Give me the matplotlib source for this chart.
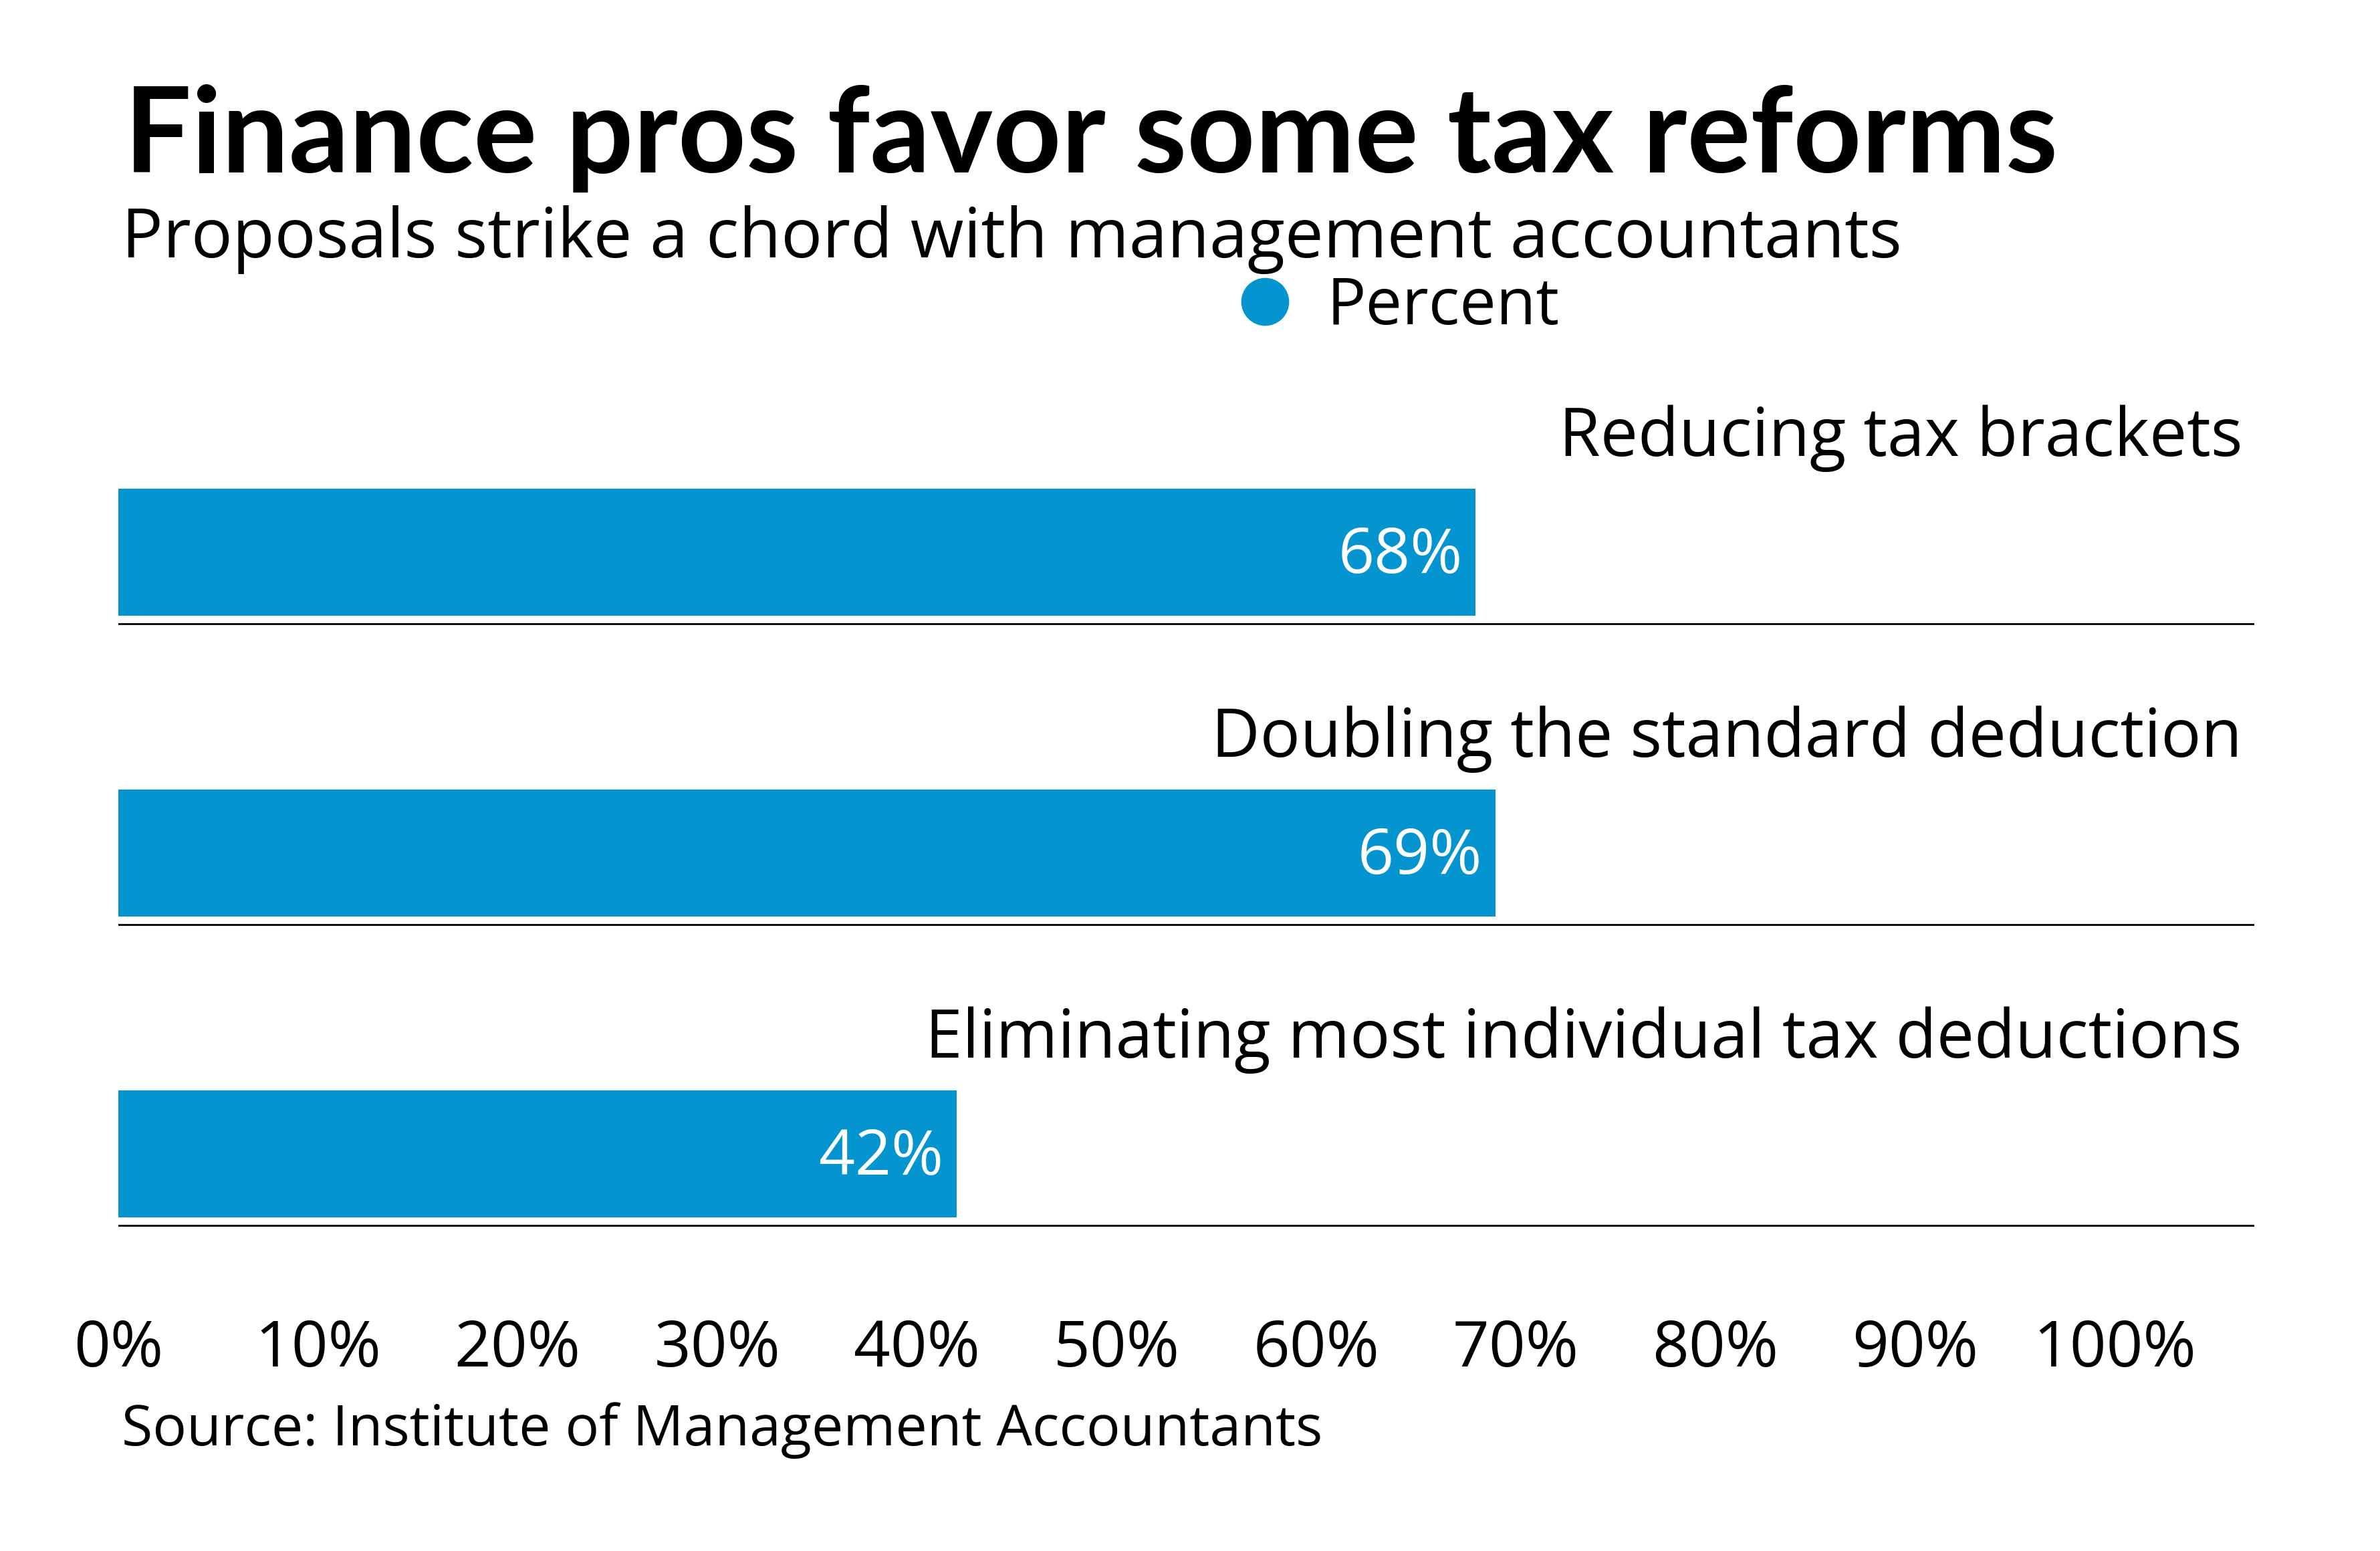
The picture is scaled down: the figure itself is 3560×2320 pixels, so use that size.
import matplotlib
matplotlib.use("Agg")
import matplotlib.pyplot as plt
from matplotlib.lines import Line2D

# data
categories = ["Reducing tax brackets",
              "Doubling the standard deduction",
              "Eliminating most individual tax deductions"]
percent = [68, 69, 42]
tick_values = [0, 10, 20, 30, 40, 50, 60, 70, 80, 90, 100]
tick_labels = [f"{t}%" for t in tick_values]

title = "Finance pros favor some tax reforms"
subtitle = "Proposals strike a chord with management accountants"
source = "Source: Institute of Management Accountants"
series_name = "Percent"

blue = "#0494d0"
W, H = 3560, 2320
DPI = 200

plt.rcParams['font.family'] = ['Open Sans', 'DejaVu Sans']

fig = plt.figure(figsize=(W / DPI, H / DPI), dpi=DPI)

# axes placed in pixel units
ax_left, ax_right = 177, 3372
ax_top, ax_bottom = 600, 1860
ax = fig.add_axes([ax_left / W, 1 - ax_bottom / H,
                   (ax_right - ax_left) / W, (ax_bottom - ax_top) / H])

# row geometry (pixels)
row_step = 450.0
first_center = 825.5
bar_h = 190 / row_step

ypos = list(range(len(categories)))
ax.barh(ypos, percent, height=bar_h, color=blue, left=0)

ax.set_xlim(0, 107)
ax.set_ylim(2 + (ax_bottom - (first_center + 2 * row_step)) / row_step,
            -(first_center - ax_top) / row_step)

# baseline rule under each bar
for y in ypos:
    ax.axhline(y + 107.5 / row_step, color="black", lw=1.0)

# category labels (right aligned above each bar)
for y, cat in zip(ypos, categories):
    ax.text(1 - 18 / (ax_right - ax_left), y - 143.5 / row_step, cat,
            transform=ax.get_yaxis_transform(), ha="right", va="baseline",
            fontsize=36, color="black")

# value labels inside bars
px_per_unit = (ax_right - ax_left) / 107
for y, v in zip(ypos, percent):
    ax.text(v - 20 / px_per_unit, y + 31 / row_step, f"{v}%",
            ha="right", va="baseline", fontsize=34, color="white")

ax.set_xticks(tick_values)
ax.set_xticklabels(tick_labels)
ax.tick_params(axis="x", length=0, pad=40, labelsize=34.5)
ax.set_yticks([])
for s in ax.spines.values():
    s.set_visible(False)

# titles
fig.text(186 / W, 1 - 258 / H, title, fontsize=64, fontweight="bold",
         ha="left", va="baseline", family=['Lato', 'DejaVu Sans'])
fig.text(182 / W, 1 - 385 / H, subtitle, fontsize=37,
         ha="left", va="baseline")
fig.text(182 / W, 1 - 2162 / H, source, fontsize=30.4,
         ha="left", va="baseline")

# legend
handle = Line2D([], [], marker="o", ls="", color=blue, markersize=24.8)
fig.legend([handle], [series_name], loc="center left",
           bbox_to_anchor=(1853 / W, 1 - 460 / H), frameon=False,
           fontsize=35, borderpad=0, borderaxespad=0,
           handlelength=0.8, handletextpad=0.55)

fig.savefig("out.png", dpi=DPI)
